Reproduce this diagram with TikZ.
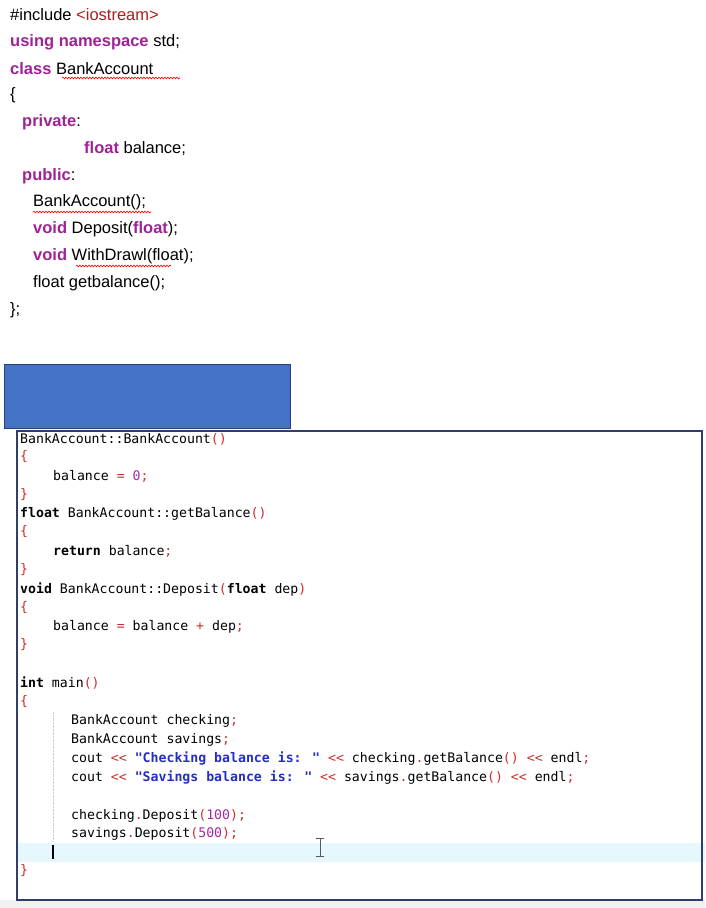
\documentclass[tikz,border=0pt]{standalone}
\usepackage{fontspec}
\setmainfont{Liberation Sans}
\newfontfamily\codefont{DejaVu Sans Mono}[Ligatures=TeXOff]
\usetikzlibrary{decorations.pathmorphing}
\definecolor{kwp}{RGB}{160,35,150}
\definecolor{inc}{RGB}{170,30,30}
\definecolor{cred}{RGB}{205,45,45}
\definecolor{cnum}{RGB}{165,40,165}
\definecolor{cstr}{RGB}{35,45,200}
\definecolor{boxblue}{RGB}{68,114,196}
\definecolor{boxedge}{RGB}{47,62,110}
\newcommand\kw[1]{\textcolor{kwp}{\textbf{#1}}}
\newcommand\R[1]{\textcolor{cred}{#1}}
\newcommand\N[1]{\textcolor{cnum}{#1}}
\newcommand\St[1]{\textcolor{cstr}{\textbf{#1}}}
\tikzset{
 top/.style={anchor=west,inner sep=0pt,font=\fontsize{16.5}{18}\selectfont},
 code/.style={anchor=west,inner sep=0pt,font=\codefont\fontsize{13.2}{16}\selectfont},
 squig/.style={draw=red,decorate,decoration={snake,amplitude=0.9pt,segment length=3pt},line width=0.6pt}
}
\begin{document}
\begin{tikzpicture}[x=1pt,y=-1pt]
\useasboundingbox (0,0) rectangle (705,908);
\fill[white] (0,0) rectangle (705,908);
% top text
\node[top] (t1) at (10,15) {\#include \textcolor{inc}{<iostream>}};
\node[top] (t2) at (10,42) {\kw{using namespace} std;};
\node[top] (t3) at (10,69) {\kw{class} BankAccount};
\node[top] (t4) at (10,95) {\{};
\node[top] (t5) at (22,122) {\kw{private}:};
\node[top] (t6) at (84,149) {\kw{float} balance;};
\node[top] (t7) at (22,176) {\kw{public}:};
\node[top] (t8) at (33,202) {BankAccount();};
\node[top] (t9) at (33,229) {\kw{void} Deposit(\kw{float});};
\node[top] (t10) at (33,256) {\kw{void} WithDrawl(float);};
\node[top] (t11) at (33,283) {float getbalance();};
\node[top] (t12) at (10,310) {\};};
\draw[squig] (62,78) -- (180,78);
\draw[squig] (33,212) -- (151,212);
\draw[squig] (76,266) -- (171,266);
% blue box
\node[draw=boxedge,fill=boxblue,line width=0.8pt,minimum width=286pt,minimum height=64pt,anchor=north west,inner sep=0pt] (blue) at (4,364) {};
% code panel
\fill[gray!12] (0,900) rectangle (705,908);
\fill[cyan!10] (17,843) rectangle (705,862);
\draw[boxedge,line width=1.2pt] (17,431) rectangle (702,900);
\draw[gray!40,densely dotted] (53,712) -- (53,842);
\draw[line width=1.6pt] (53,845) -- (53,859);
\draw[gray!70!black,line width=0.8pt] (320,838) -- (320,856) (316,838) -- (324,838) (316,856) -- (324,856);
\node[code] (c1) at (20,439) {BankAccount::BankAccount\R{()}};
\node[code] (c2) at (20,457) {\R{\{}};
\node[code] (c3) at (53,476) {balance \R{=} \N{0}\R{;}};
\node[code] (c4) at (20,495) {\R{\}}};
\node[code] (c5) at (20,514) {\textbf{float} BankAccount::getBalance\R{()}};
\node[code] (c6) at (20,532) {\R{\{}};
\node[code] (c7) at (53,551) {\textbf{return} balance\R{;}};
\node[code] (c8) at (20,570) {\R{\}}};
\node[code] (c9) at (20,589) {\textbf{void} BankAccount::Deposit\R{(}\textbf{float} dep\R{)}};
\node[code] (c10) at (20,608) {\R{\{}};
\node[code] (c11) at (53,627) {balance \R{=} balance \R{+} dep\R{;}};
\node[code] (c12) at (20,645) {\R{\}}};
\node[code] (c13) at (20,683) {\textbf{int} main\R{()}};
\node[code] (c14) at (20,702) {\R{\{}};
\node[code] (c15) at (71,721) {BankAccount checking\R{;}};
\node[code] (c16) at (71,740) {BankAccount savings\R{;}};
\node[code] (c17) at (71,759) {cout \R{<<} \St{"Checking balance is: "} \R{<<} checking\R{.}getBalance\R{()} \R{<<} endl\R{;}};
\node[code] (c18) at (71,778) {cout \R{<<} \St{"Savings balance is: "} \R{<<} savings\R{.}getBalance\R{()} \R{<<} endl\R{;}};
\node[code] (c19) at (71,816) {checking\R{.}Deposit\R{(}\N{100}\R{);}};
\node[code] (c20) at (71,834) {savings\R{.}Deposit\R{(}\N{500}\R{);}};
\node[code] (c21) at (20,871) {\R{\}}};
\end{tikzpicture}
\end{document}
